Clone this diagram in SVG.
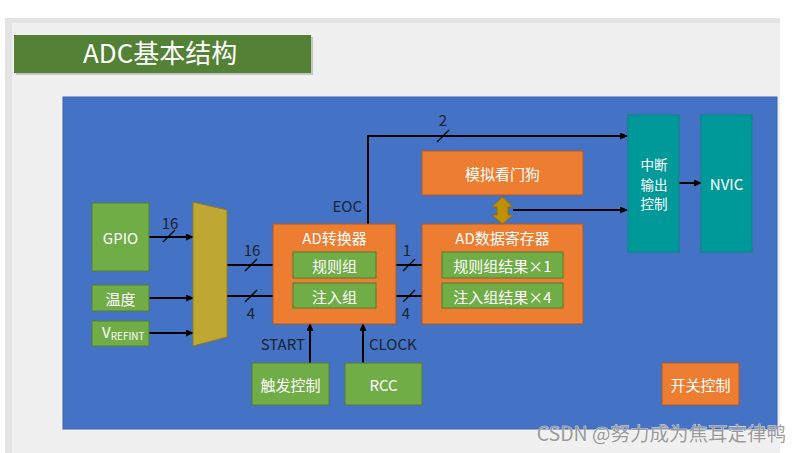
<svg xmlns="http://www.w3.org/2000/svg" width="801" height="453" viewBox="0 0 801 453">
<defs>
<style>
text{font-family:"Noto Sans CJK SC","Noto Sans",sans-serif;}
.w{fill:#ffffff;font-size:15px;text-anchor:middle;dominant-baseline:central;}
.w2{fill:#ffffff;font-size:13.5px;text-anchor:middle;dominant-baseline:central;}
.k{fill:#1b2233;font-size:15px;dominant-baseline:central;}
.g{fill:#70ad47;stroke:#507e32;stroke-width:1;}
.o{fill:#ed7d31;stroke:#ae5a21;stroke-width:1;}
.t{fill:#009999;stroke:#0b8585;stroke-width:1;}
.ln{fill:none;stroke:#000;stroke-width:2;}
.sl{fill:none;stroke:#000;stroke-width:1.3;}
</style>
<marker id="ah" markerUnits="userSpaceOnUse" markerWidth="8" markerHeight="7" refX="7" refY="3.5" orient="auto">
<path d="M0,0 L8,3.5 L0,7 z" fill="#000"/>
</marker>
</defs>
<rect x="0" y="0" width="801" height="453" fill="#ffffff"/>
<rect x="5" y="18" width="775" height="435" fill="#e4e4e4"/>
<rect x="12" y="23" width="768" height="430" fill="#f0f0f0"/>
<g id="title">
<rect x="16" y="37" width="297" height="38" fill="#9a9a9a" opacity="0.5"/>
<rect x="14" y="35" width="297" height="38" fill="#538135"/>
<text x="83" y="63" style="fill:#ffffff;font-size:26px;">ADC基本结构</text>
</g>
<rect x="63" y="97" width="714" height="332" fill="#4472c4" stroke="#3a62a8" stroke-width="1"/>
<g id="connectors">
<line class="ln" x1="149" y1="237" x2="193" y2="237" marker-end="url(#ah)"/>
<line class="sl" x1="163" y1="242" x2="175" y2="230"/>
<text class="k" x="170" y="222" text-anchor="middle">16</text>
<line class="ln" x1="149" y1="298" x2="193" y2="298" marker-end="url(#ah)"/>
<line class="ln" x1="149" y1="333" x2="193" y2="333" marker-end="url(#ah)"/>
<line class="ln" x1="227" y1="265" x2="293" y2="265" marker-end="url(#ah)"/>
<line class="sl" x1="245" y1="271" x2="257" y2="259"/>
<text class="k" x="252" y="249" text-anchor="middle">16</text>
<line class="ln" x1="227" y1="296" x2="293" y2="296" marker-end="url(#ah)"/>
<line class="sl" x1="245" y1="302" x2="257" y2="290"/>
<text class="k" x="251" y="312" text-anchor="middle">4</text>
<line class="ln" x1="376" y1="265" x2="442" y2="265" marker-end="url(#ah)"/>
<line class="sl" x1="403" y1="271" x2="415" y2="259"/>
<text class="k" x="407" y="249" text-anchor="middle">1</text>
<line class="ln" x1="376" y1="296" x2="442" y2="296" marker-end="url(#ah)"/>
<line class="sl" x1="403" y1="302" x2="415" y2="290"/>
<text class="k" x="406" y="312" text-anchor="middle">4</text>
<polyline class="ln" points="368,224 368,136 627,136" marker-end="url(#ah)"/>
<line class="sl" x1="437" y1="142" x2="449" y2="130"/>
<text class="k" x="443" y="119" text-anchor="middle">2</text>
<text class="k" x="362" y="205" text-anchor="end">EOC</text>
<line class="ln" x1="513" y1="210" x2="627" y2="210" marker-end="url(#ah)"/>
<line class="ln" x1="679" y1="183" x2="701" y2="183" marker-end="url(#ah)"/>
<line class="ln" x1="310" y1="363" x2="310" y2="324" marker-end="url(#ah)"/>
<text class="k" x="305" y="343" text-anchor="end">START</text>
<line class="ln" x1="363" y1="363" x2="363" y2="324" marker-end="url(#ah)"/>
<text class="k" x="369" y="343">CLOCK</text>
</g>
<g id="gpio"><rect class="g" x="92" y="203" width="57" height="68"/><text class="w" x="120.5" y="237">GPIO</text></g>
<g id="temp"><rect class="g" x="92" y="285" width="57" height="26"/><text class="w" x="120.5" y="298">温度</text></g>
<g id="vrefint"><rect class="g" x="92" y="321" width="57" height="25"/><text x="102" y="338" style="fill:#ffffff;font-size:15px;">V<tspan font-size="10" dy="2">REFINT</tspan></text></g>
<g id="mux"><polygon points="193,202 227,210 227,337 193,346" fill="#bfa733" stroke="#8f7c22" stroke-width="1"/></g>
<g id="adconv">
<rect class="o" x="273" y="224" width="123" height="100"/>
<text class="w" x="334.5" y="237">AD转换器</text>
<rect class="g" x="293" y="252" width="83" height="26"/><text class="w" x="334.5" y="265">规则组</text>
<rect class="g" x="293" y="283" width="83" height="25"/><text class="w" x="334.5" y="296">注入组</text>
</g>
<g id="watchdog"><rect class="o" x="422" y="151" width="161" height="44"/><text class="w" x="502.5" y="173">模拟看门狗</text></g>
<g id="dbl-arrow"><polygon points="502.5,197 513,207 508,207 508,215 513,215 502.5,224 492,215 497,215 497,207 492,207" fill="#bf9000" stroke="#8f6c00" stroke-width="0.8"/></g>
<g id="adreg">
<rect class="o" x="422" y="224" width="161" height="100"/>
<text class="w" x="502.5" y="237">AD数据寄存器</text>
<rect class="g" x="442" y="252" width="121" height="26"/><text class="w" x="502.5" y="265">规则组结果×1</text>
<rect class="g" x="442" y="283" width="121" height="25"/><text class="w" x="502.5" y="296">注入组结果×4</text>
</g>
<g id="intctrl"><rect class="t" x="628" y="115" width="51" height="137"/>
<text class="w2" x="654" y="164">中断</text><text class="w2" x="654" y="183.5">输出</text><text class="w2" x="654" y="203">控制</text></g>
<g id="nvic"><rect class="t" x="701" y="115" width="51" height="137"/><text class="w" x="726.5" y="183.5">NVIC</text></g>
<g id="trigger"><rect class="g" x="252" y="363" width="77" height="42"/><text class="w" x="290.5" y="384">触发控制</text></g>
<g id="rcc"><rect class="g" x="345" y="363" width="77" height="42"/><text class="w" x="383.5" y="384">RCC</text></g>
<g id="switch"><rect class="o" x="662" y="363" width="77" height="42"/><text class="w" x="700.5" y="384">开关控制</text></g>
<text x="786" y="441" text-anchor="end" style="fill:#9a9a9a;font-size:19.5px;stroke:#ffffff;stroke-width:0.6;paint-order:stroke;">CSDN @努力成为焦耳定律鸭</text>
</svg>
